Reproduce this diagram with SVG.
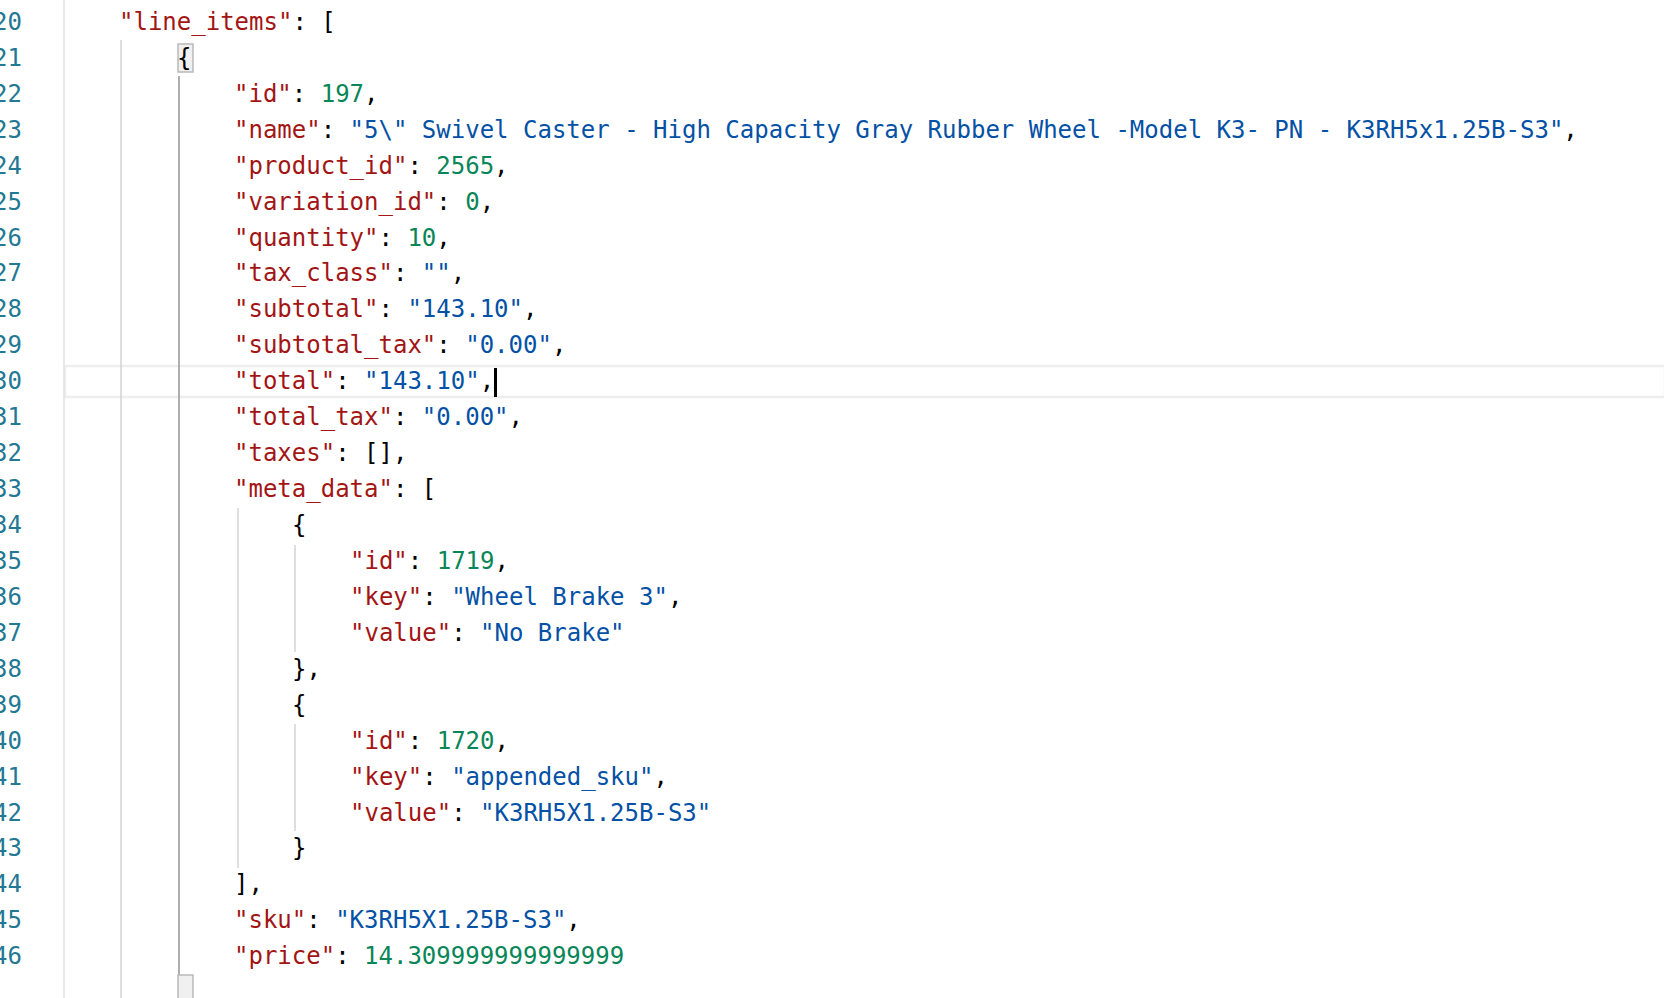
<svg xmlns="http://www.w3.org/2000/svg" width="1664" height="998" viewBox="0 0 1664 998">
<style>
text{font-family:"DejaVu Sans Mono","Liberation Mono",monospace;font-size:24px;white-space:pre}
.k{fill:#a31515}.s{fill:#0451a5}.n{fill:#098658}.p{fill:#000}
.ln{fill:#237893;text-anchor:end}
.g{stroke:#d3d3d3;stroke-width:1.5}
</style>
<rect width="1664" height="998" fill="#fff"/>
<rect x="65" y="366" width="1600" height="31" fill="none" stroke="#eeeeee" stroke-width="2.5"/>
<line x1="64" y1="0" x2="64" y2="998" stroke="#e0e0e0" stroke-width="1.5"/>
<g id="guides">
<line class="g" x1="121" y1="40" x2="121" y2="998"/>
<line x1="179" y1="76" x2="179" y2="998" stroke="#939393" stroke-width="1.5"/>
<line class="g" x1="238" y1="508" x2="238" y2="868"/>
<line class="g" x1="295" y1="545" x2="295" y2="652"/>
<line class="g" x1="295" y1="724" x2="295" y2="831"/>
</g>
<rect x="178" y="44" width="15" height="28" fill="#f0f0f0" stroke="#b9b9b9" stroke-width="1.5"/>
<rect x="178" y="975" width="15" height="30" fill="#f0f0f0" stroke="#b9b9b9" stroke-width="1.5"/>
<g id="linenumbers">
<text class="ln" x="22" y="30">20</text>
<text class="ln" x="22" y="66">21</text>
<text class="ln" x="22" y="102">22</text>
<text class="ln" x="22" y="138">23</text>
<text class="ln" x="22" y="174">24</text>
<text class="ln" x="22" y="210">25</text>
<text class="ln" x="22" y="246">26</text>
<text class="ln" x="22" y="281">27</text>
<text class="ln" x="22" y="317">28</text>
<text class="ln" x="22" y="353">29</text>
<text class="ln" x="22" y="389">30</text>
<text class="ln" x="22" y="425">31</text>
<text class="ln" x="22" y="461">32</text>
<text class="ln" x="22" y="497">33</text>
<text class="ln" x="22" y="533">34</text>
<text class="ln" x="22" y="569">35</text>
<text class="ln" x="22" y="605">36</text>
<text class="ln" x="22" y="641">37</text>
<text class="ln" x="22" y="677">38</text>
<text class="ln" x="22" y="713">39</text>
<text class="ln" x="22" y="749">40</text>
<text class="ln" x="22" y="785">41</text>
<text class="ln" x="22" y="821">42</text>
<text class="ln" x="22" y="856">43</text>
<text class="ln" x="22" y="892">44</text>
<text class="ln" x="22" y="928">45</text>
<text class="ln" x="22" y="964">46</text>
</g>
<g id="code">
<text x="119" y="30"><tspan class="k">"line_items"</tspan><tspan class="p">: [</tspan></text>
<text x="177" y="66" class="p">{</text>
<text x="234" y="102"><tspan class="k">"id"</tspan><tspan class="p">: </tspan><tspan class="n">197</tspan><tspan class="p">,</tspan></text>
<text x="234" y="138"><tspan class="k">"name"</tspan><tspan class="p">: </tspan><tspan class="s">"5\" Swivel Caster - High Capacity Gray Rubber Wheel -Model K3- PN - K3RH5x1.25B-S3"</tspan><tspan class="p">,</tspan></text>
<text x="234" y="174"><tspan class="k">"product_id"</tspan><tspan class="p">: </tspan><tspan class="n">2565</tspan><tspan class="p">,</tspan></text>
<text x="234" y="210"><tspan class="k">"variation_id"</tspan><tspan class="p">: </tspan><tspan class="n">0</tspan><tspan class="p">,</tspan></text>
<text x="234" y="246"><tspan class="k">"quantity"</tspan><tspan class="p">: </tspan><tspan class="n">10</tspan><tspan class="p">,</tspan></text>
<text x="234" y="281"><tspan class="k">"tax_class"</tspan><tspan class="p">: </tspan><tspan class="s">""</tspan><tspan class="p">,</tspan></text>
<text x="234" y="317"><tspan class="k">"subtotal"</tspan><tspan class="p">: </tspan><tspan class="s">"143.10"</tspan><tspan class="p">,</tspan></text>
<text x="234" y="353"><tspan class="k">"subtotal_tax"</tspan><tspan class="p">: </tspan><tspan class="s">"0.00"</tspan><tspan class="p">,</tspan></text>
<text x="234" y="389"><tspan class="k">"total"</tspan><tspan class="p">: </tspan><tspan class="s">"143.10"</tspan><tspan class="p">,</tspan></text>
<text x="234" y="425"><tspan class="k">"total_tax"</tspan><tspan class="p">: </tspan><tspan class="s">"0.00"</tspan><tspan class="p">,</tspan></text>
<text x="234" y="461"><tspan class="k">"taxes"</tspan><tspan class="p">: [],</tspan></text>
<text x="234" y="497"><tspan class="k">"meta_data"</tspan><tspan class="p">: [</tspan></text>
<text x="292" y="533" class="p">{</text>
<text x="350" y="569"><tspan class="k">"id"</tspan><tspan class="p">: </tspan><tspan class="n">1719</tspan><tspan class="p">,</tspan></text>
<text x="350" y="605"><tspan class="k">"key"</tspan><tspan class="p">: </tspan><tspan class="s">"Wheel Brake 3"</tspan><tspan class="p">,</tspan></text>
<text x="350" y="641"><tspan class="k">"value"</tspan><tspan class="p">: </tspan><tspan class="s">"No Brake"</tspan></text>
<text x="292" y="677" class="p">},</text>
<text x="292" y="713" class="p">{</text>
<text x="350" y="749"><tspan class="k">"id"</tspan><tspan class="p">: </tspan><tspan class="n">1720</tspan><tspan class="p">,</tspan></text>
<text x="350" y="785"><tspan class="k">"key"</tspan><tspan class="p">: </tspan><tspan class="s">"appended_sku"</tspan><tspan class="p">,</tspan></text>
<text x="350" y="821"><tspan class="k">"value"</tspan><tspan class="p">: </tspan><tspan class="s">"K3RH5X1.25B-S3"</tspan></text>
<text x="292" y="856" class="p">}</text>
<text x="234" y="892" class="p">],</text>
<text x="234" y="928"><tspan class="k">"sku"</tspan><tspan class="p">: </tspan><tspan class="s">"K3RH5X1.25B-S3"</tspan><tspan class="p">,</tspan></text>
<text x="234" y="964"><tspan class="k">"price"</tspan><tspan class="p">: </tspan><tspan class="n">14.309999999999999</tspan></text>
</g>
<rect x="494" y="368" width="3" height="29" fill="#000"/>
</svg>
